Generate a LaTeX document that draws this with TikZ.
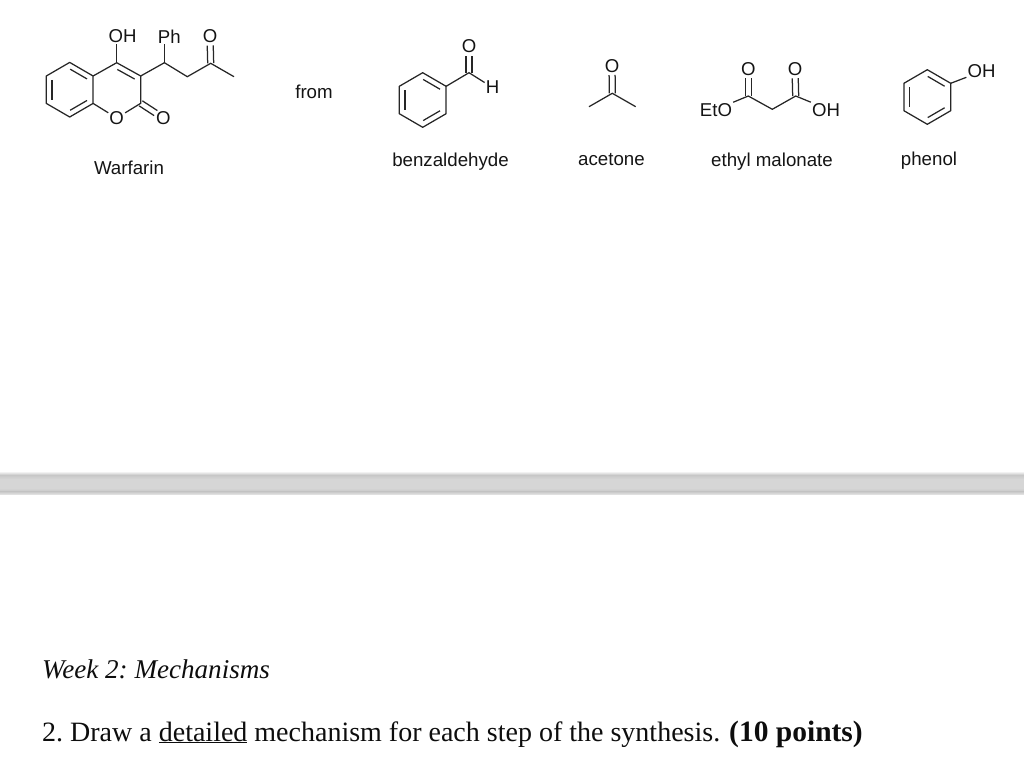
\documentclass[tikz,border=0pt]{standalone}
\usepackage{fontspec}
\setmainfont{Liberation Sans}
\newfontfamily\qfont{Liberation Serif}
\usetikzlibrary{calc,positioning}
\tikzset{
  bond/.style={line width=1.25pt,color=black!85},
  atom/.style={inner sep=1pt,text=black!92,font=\fontsize{18.6}{20}\selectfont},
  caption/.style={inner sep=0pt,anchor=base,text=black!92,font=\fontsize{18.7}{20}\selectfont},
  question/.style={inner sep=0pt,anchor=base west,text=black!95,font=\qfont\fontsize{28}{30}\selectfont}
}
% six corners of a ring, then its bonds
\newcommand{\benzring}[3]{
  \coordinate (#1t) at (#2,#3-27.3);
  \coordinate (#1ul) at (#2-23.4,#3-13.7);
  \coordinate (#1ll) at (#2-23.4,#3+13.7);
  \coordinate (#1b) at (#2,#3+27.3);
  \coordinate (#1lr) at (#2+23.4,#3+13.7);
  \coordinate (#1ur) at (#2+23.4,#3-13.7);
  \draw[bond,line join=round] (#1t) -- (#1ul) -- (#1ll) -- (#1b) -- (#1lr) -- (#1ur) -- cycle;
  \innerbond{#1ul}{#1ll}
  \innerbond{#1b}{#1lr}
  \innerbond{#1ur}{#1t}
}
\newcommand{\innerbond}[2]{
  \draw[bond] ($(#1)!.14!(#2)!5.6pt!90:(#2)$) -- ($(#2)!.14!(#1)!5.6pt!-90:(#1)$);
}
\newcommand{\twobond}[2]{
  \draw[bond,shorten >=9pt] ($(#1)!3pt!90:(#2)$) -- ($(#2)!3pt!-90:(#1)$);
  \draw[bond,shorten >=9pt] ($(#1)!3pt!-90:(#2)$) -- ($(#2)!3pt!90:(#1)$);
}
\begin{document}
\begin{tikzpicture}[x=1pt,y=-1pt]
\useasboundingbox (0,0) rectangle (1024,772);

% Warfarin
\benzring{w}{69.7}{89.7}
\coordinate (c4) at (116.7,62.7);
\coordinate (c3) at (140.7,76);
\coordinate (c2) at (140.7,103.3);
\coordinate (ch) at (164.4,62.7);
\coordinate (ch2) at (187.3,76.7);
\coordinate (co) at (210.7,63.3);
\coordinate (me) at (234,76.7);
\node[atom] (oh) at (122.5,36.5) {OH};
\node[atom] (ph) at (169.3,36.5) {Ph};
\node[atom] (o1) at (116.7,118) {O};
\node[atom] (o2) at (163.3,118) {O};
\node[atom] (o3) at (210,36.5) {O};
\draw[bond] (wur) -- (c4) -- (c3) -- (c2) -- (o1) -- (wlr);
\innerbond{c3}{c4}
\draw[bond] (c4) -- (c4 |- oh.south);
\draw[bond] (c3) -- (ch) -- (ch2) -- (co) -- (me);
\draw[bond] (ch) -- (ch |- ph.south);
\twobond{c2}{o2}
\twobond{co}{o3}
\node[caption] (warfarin) at (129,174.3) {Warfarin};

\node[caption] (from) at (314,98) {from};

% benzaldehyde
\benzring{a}{422.7}{100}
\coordinate (cho) at (469,72.7);
\node[atom] (ao) at (469,46.5) {O};
\node[atom] (ah) at (492.5,87.5) {H};
\draw[bond] (aur) -- (cho) -- (ah);
\twobond{cho}{ao}
\node[caption] (benzaldehyde) at (450.5,166.7) {benzaldehyde};

% acetone
\coordinate (k) at (612.3,93.3);
\coordinate (kl) at (589,106.7);
\coordinate (kr) at (635.7,106.7);
\node[atom] (ko) at (612,66) {O};
\draw[bond] (kl) -- (k) -- (kr);
\twobond{k}{ko}
\node[caption] (acetone) at (611.5,165.7) {acetone};

% ethyl malonate
\coordinate (m1) at (748.3,96);
\coordinate (m2) at (772.3,109.3);
\coordinate (m3) at (795.7,96);
\node[atom] (mo1) at (748.3,69.3) {O};
\node[atom] (mo2) at (795,69.3) {O};
\node[atom] (eto) at (716,110) {EtO};
\node[atom] (moh) at (826,110) {OH};
\draw[bond] (eto.north east) -- (m1) -- (m2) -- (m3) -- (moh.north west);
\twobond{m1}{mo1}
\twobond{m3}{mo2}
\node[caption] (malonate) at (772,166) {ethyl malonate};

% phenol
\benzring{p}{927.3}{97}
\node[atom] (poh) at (981.5,71.5) {OH};
\draw[bond] (pur) -- (poh);
\node[caption] (phenol) at (929,165) {phenol};

% grey bar
\shade[top color=black!8,bottom color=black!22] (0,472.5) rectangle (1024,475);
\shade[top color=black!22,bottom color=black!16] (0,475) rectangle (1024,479);
\fill[black!16] (0,479) rectangle (1024,488);
\shade[top color=black!16,bottom color=black!22] (0,488) rectangle (1024,491.5);
\shade[top color=black!22,bottom color=black!12] (0,491.5) rectangle (1024,494);

\node[question,font=\qfont\itshape\fontsize{27.1}{30}\selectfont] (week) at (42,678) {\frenchspacing Week 2: Mechanisms};
\node[question] (draw) at (42,741) {\frenchspacing 2. Draw a \underline{detailed} mechanism for each step of the synthesis. \hspace{2pt}{\fontsize{29.5}{30}\selectfont\textbf{(10 points)}}};
\end{tikzpicture}
\end{document}
